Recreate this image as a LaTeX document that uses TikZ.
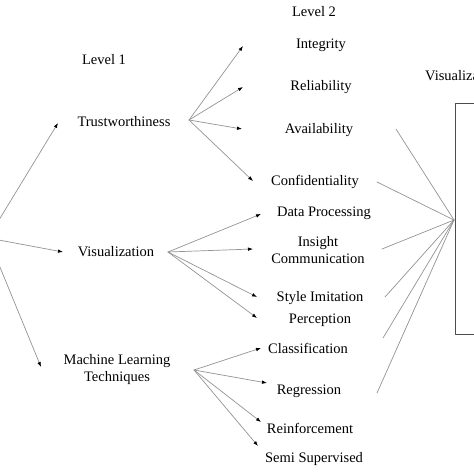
\documentclass[tikz,border=0pt]{standalone}
\usepackage{fontspec}
\setmainfont{Liberation Serif}
\usetikzlibrary{arrows.meta}
\begin{document}
\begin{tikzpicture}[x=1pt, y=-1pt, line join=round, line cap=round, >={Latex[length=5pt,width=3.6pt,black]}]
            \tikzset{every node/.style={font=\fontsize{14.5}{17}\selectfont, inner sep=0pt, align=center}}
            \tikzset{link/.style={draw=gray!85, line width=0.7pt}}
            \useasboundingbox (0,0) rectangle (474,474);
            \clip (0,0) rectangle (474,474);
            % headings
            \node (lvlone) at (104,60) {Level 1};
            \node (lvltwo) at (314,12) {Level 2};
            \node[anchor=west] (vistitle) at (425,76) {Visualization};
            % level 1
            \coordinate (root) at (-12,238);
            \node (trust) at (124,122) {Trustworthiness};
            \node (vis) at (116,252) {Visualization};
            \node (ml) at (117,370) {Machine Learning\\Techniques};
            \draw[link,->] (root) -- (58,123);
            \draw[link,->] (root) -- (63,252);
            \draw[link,->] (root) -- (41,367);
            % level 2
            \node (integ) at (321,45) {Integrity};
            \node (relia) at (321,87) {Reliability};
            \node (avail) at (319,130) {Availability};
            \node (confi) at (315,182) {Confidentiality};
            \node (datap) at (324,213) {Data Processing};
            \node (insig) at (318,250) {Insight\\Communication};
            \node (style) at (320,298) {Style Imitation};
            \node (perce) at (320,320) {Perception};
            \node (class) at (308,348) {Classification};
            \node (regre) at (309,391) {Regression};
            \node (reinf) at (310,428) {Reinforcement};
            \node (semis) at (314,459) {Semi Supervised};
            % fans
            \coordinate (trustfan) at (189,120);
            \coordinate (visfan) at (168,252);
            \coordinate (mlfan) at (194,370);
            \foreach \p in {(243,46),(243,87),(242,129),(253,181)}
                \draw[link,->] (trustfan) -- \p;
            \foreach \p in {(261,214),(253,249),(257,297),(257,318)}
                \draw[link,->] (visfan) -- \p;
            \foreach \p in {(261,348),(267,383),(261,422),(258,446)}
                \draw[link,->] (mlfan) -- \p;
            % visualization box
            \coordinate (join) at (454,220);
            \draw[gray!60!black, line width=0.9pt] (455,103) rectangle (500,334);
            \foreach \p in {(396,129),(377,182),(382,249),(385,297),(383,338),(377,393)}
                \draw[link] (join) -- \p;
        \end{tikzpicture}
\end{document}
